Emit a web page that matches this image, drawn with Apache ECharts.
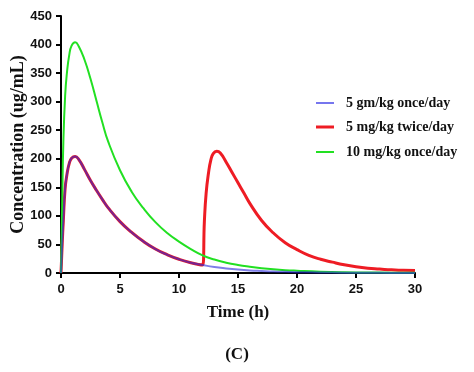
<!DOCTYPE html>
<html>
<head>
<meta charset="utf-8">
<script src="https://cdn.jsdelivr.net/npm/echarts@6/dist/echarts.min.js"></script>
<style>
html,body{margin:0;padding:0;background:#fff;}
#c{width:474px;height:372px;}
</style>
</head>
<body>
<div id="c"></div>
<script>
// Time points (h)
var timeOnce = [0, 0.1, 0.2, 0.35, 0.5, 0.7, 0.9, 1.2, 1.5, 2, 2.5, 3, 3.5, 4, 5, 6, 7, 8, 9, 10, 11, 12, 13, 14, 15, 16, 17, 18, 19, 20, 22, 24, 26, 28, 30];
// 5 gm/kg once/day
var blueVals = [0, 50, 93, 148, 172, 192, 201, 204, 199, 181, 162, 145, 129, 114, 90, 71, 55, 42, 32, 24, 18, 14, 10.5, 8, 6, 4.5, 3.5, 2.6, 2, 1.5, 0.9, 0.5, 0.3, 0.2, 0.1];
// 10 mg/kg once/day
var greenVals = [0, 120, 230, 310, 350, 382, 398, 404, 397, 373, 340, 302, 264, 230, 180, 142, 113, 89, 70, 55, 42, 31, 23.5, 18, 14, 11, 8.5, 6.5, 5, 4, 2.4, 1.4, 0.9, 0.5, 0.3];
// 5 mg/kg twice/day
var timeTwice = [0, 0.1, 0.2, 0.35, 0.5, 0.7, 0.9, 1.2, 1.5, 2, 2.5, 3, 3.5, 4, 5, 6, 7, 8, 9, 10, 11, 12, 12.15, 12.3, 12.5, 12.7, 12.9, 13.2, 13.5, 14, 14.5, 15, 15.5, 16, 17, 18, 19, 20, 21, 22, 23, 24, 25, 26, 27, 28, 29, 30];
var redVals = [0, 50, 93, 148, 172, 192, 201, 204, 199, 181, 162, 145, 129, 114, 90, 71, 55, 42, 32, 24, 18, 14, 90, 140, 175, 198, 209, 213, 210, 194, 176, 158, 140, 122, 92, 70, 53, 41, 31, 24, 19, 14.5, 11, 8.5, 7, 5.5, 4.8, 4.2];

var xTicks = [0, 5, 10, 15, 20, 25, 30];
var yTicks = [0, 50, 100, 150, 200, 250, 300, 350, 400, 450];

var seriesNames = ['5 gm/kg once/day', '5 mg/kg twice/day', '10 mg/kg once/day'];

function pairs(t, v) { return t.map(function (x, i) { return [x, v[i]]; }); }

var chart = echarts.init(document.getElementById('c'), null, {renderer: 'canvas'});
var axisLabelStyle = {fontFamily: 'Liberation Sans', fontWeight: 'bold', fontSize: 13, color: '#111'};
var legendText = {fontFamily: 'Liberation Serif', fontWeight: 'bold', fontSize: 14, color: '#111', padding: [0, 0, 0, 7]};
function legendFor(i, top, h) {
  return {
    left: 311, top: top, orient: 'vertical', itemWidth: 18, itemHeight: h,
    icon: 'rect', data: [seriesNames[i]], textStyle: legendText
  };
}
chart.setOption({
  animation: false,
  backgroundColor: '#fff',
  grid: {left: 61, right: 59, top: 16, bottom: 99, outerBoundsMode: 'none', containLabel: false},
  legend: [legendFor(0, 91, 1.5), legendFor(1, 115, 3), legendFor(2, 140, 2)],
  xAxis: {
    type: 'value', min: 0, max: 30, interval: 5,
    name: 'Time (h)', nameLocation: 'middle', nameGap: 31, nameMoveOverlap: false,
    nameTextStyle: {fontFamily: 'Liberation Serif', fontWeight: 'bold', fontSize: 17, color: '#111'},
    axisLine: {onZero: false, lineStyle: {color: '#000', width: 2}},
    axisTick: {show: true, length: 5, lineStyle: {color: '#000', width: 2}},
    axisLabel: Object.assign({margin: 10, formatter: function (v) { return xTicks.indexOf(v) >= 0 ? String(v) : ''; }}, axisLabelStyle),
    splitLine: {show: false}
  },
  yAxis: {
    type: 'value', min: 0, max: 450, interval: 50,
    name: 'Concentration (ug/mL)', nameLocation: 'middle', nameGap: 34, nameRotate: 90, nameMoveOverlap: false,
    nameTextStyle: {fontFamily: 'Liberation Serif', fontWeight: 'bold', fontSize: 18, color: '#111'},
    axisLine: {show: true, onZero: false, lineStyle: {color: '#000', width: 2}},
    axisTick: {show: true, length: 5, lineStyle: {color: '#000', width: 2}},
    axisLabel: Object.assign({margin: 9, formatter: function (v) { return yTicks.indexOf(v) >= 0 ? String(v) : ''; }}, axisLabelStyle),
    splitLine: {show: false}
  },
  series: [
    {
      name: seriesNames[1], type: 'line', data: pairs(timeTwice, redVals),
      smooth: 0.5, symbol: 'none', z: 2,
      lineStyle: {color: '#ee1c24', width: 3}, itemStyle: {color: '#ee1c24'}
    },
    {
      name: seriesNames[2], type: 'line', data: pairs(timeOnce, greenVals),
      smooth: 0.5, symbol: 'none', z: 3,
      lineStyle: {color: '#22e022', width: 2}, itemStyle: {color: '#22e022'}
    },
    {
      name: seriesNames[0], type: 'line', data: pairs(timeOnce, blueVals),
      smooth: 0.5, symbol: 'none', z: 4,
      lineStyle: {color: '#2828d8', width: 2, opacity: 0.6}, itemStyle: {color: '#4848e8'}
    }
  ],
  graphic: [{
    type: 'text', left: 'center', top: 346,
    style: {text: '(C)', font: 'bold 17px "Liberation Serif"', fill: '#111'}
  }]
});
</script>
</body>
</html>
